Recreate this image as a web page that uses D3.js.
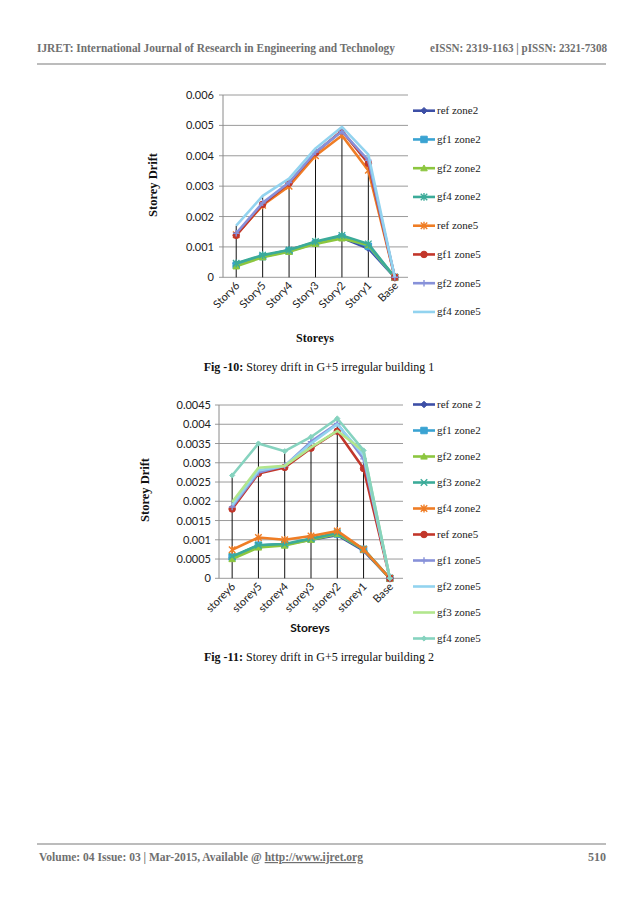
<!DOCTYPE html>
<html><head><meta charset="utf-8">
<script src="https://cdn.jsdelivr.net/npm/d3@7"></script>
<style>body{margin:0;background:#fff}</style>
</head><body>
<script>
// ---------- Figure 10 data ----------
const categories1 = ["Story6","Story5","Story4","Story3","Story2","Story1","Base"];
const seriesNames1 = ["ref zone2","gf1 zone2","gf2 zone2","gf4 zone2","ref zone5","gf1 zone5","gf2 zone5","gf4 zone5"];
const refZone2_1 = [0.00045,0.00070,0.00090,0.00115,0.00130,0.00095,0];
const gf1Zone2_1 = [0.00040,0.00068,0.00086,0.00112,0.00132,0.00102,0];
const gf2Zone2_1 = [0.00036,0.00066,0.00084,0.00110,0.00128,0.00106,0];
const gf4Zone2_1 = [0.00046,0.00073,0.00090,0.00118,0.00138,0.00110,0];
const refZone5_1 = [0.00140,0.00237,0.00300,0.00400,0.00467,0.00352,0];
const gf1Zone5_1 = [0.00138,0.00240,0.00310,0.00410,0.00482,0.00375,0];
const gf2Zone5_1 = [0.00145,0.00245,0.00312,0.00412,0.00480,0.00385,0];
const gf4Zone5_1 = [0.00170,0.00268,0.00325,0.00424,0.00495,0.00404,0];
const yTicks1 = [0,0.001,0.002,0.003,0.004,0.005,0.006];

// ---------- Figure 11 data ----------
const categories2 = ["storey6","storey5","storey4","storey3","storey2","storey1","Base"];
const seriesNames2 = ["ref zone 2","gf1 zone2","gf2 zone2","gf3 zone2","gf4 zone2","ref zone5","gf1 zone5","gf2 zone5","gf3 zone5","gf4 zone5"];
const refZone2_2 = [0.00055,0.00085,0.00088,0.00100,0.00112,0.00072,0];
const gf1Zone2_2 = [0.00055,0.00086,0.00088,0.00102,0.00115,0.00075,0];
const gf2Zone2_2 = [0.00050,0.00080,0.00085,0.00100,0.00115,0.00075,0];
const gf3Zone2_2 = [0.00057,0.00086,0.00089,0.00103,0.00118,0.00076,0];
const gf4Zone2_2 = [0.00074,0.00106,0.00100,0.00110,0.00123,0.00075,0];
const refZone5_2 = [0.00180,0.00272,0.00288,0.00338,0.00382,0.00285,0];
const gf1Zone5_2 = [0.00185,0.00275,0.00292,0.00355,0.00402,0.00310,0];
const gf2Zone5_2 = [0.00190,0.00280,0.00292,0.00350,0.00400,0.00320,0];
const gf3Zone5_2 = [0.00198,0.00287,0.00292,0.00340,0.00383,0.00330,0];
const gf4Zone5_2 = [0.00267,0.00350,0.00330,0.00367,0.00415,0.00332,0];
const yTicks2 = [0,0.0005,0.001,0.0015,0.002,0.0025,0.003,0.0035,0.004,0.0045];

// ---------- styles ----------
const C = {navy:"#3d4fa6", cyan:"#3aa3d2", lime:"#8cc63f", teal:"#3bab99", orange:"#ef7d25",
           red:"#c2362a", lav:"#8791d9", sky:"#92d3ef", lgreen:"#b2e68d", aqua:"#86d3bf"};
const SERIF = "'Liberation Serif', 'Times New Roman', serif";
const SANS = "Lato, 'Liberation Sans', sans-serif";
const chart1 = {
  cats: categories1, ticks: yTicks1,
  series: [
    {name:seriesNames1[0], v:refZone2_1, c:C.navy, m:"diamond"},
    {name:seriesNames1[1], v:gf1Zone2_1, c:C.cyan, m:"square"},
    {name:seriesNames1[2], v:gf2Zone2_1, c:C.lime, m:"triangle"},
    {name:seriesNames1[3], v:gf4Zone2_1, c:C.teal, m:"asterisk"},
    {name:seriesNames1[4], v:refZone5_1, c:C.orange, m:"asterisk"},
    {name:seriesNames1[5], v:gf1Zone5_1, c:C.red, m:"circle"},
    {name:seriesNames1[6], v:gf2Zone5_1, c:C.lav, m:"plus"},
    {name:seriesNames1[7], v:gf4Zone5_1, c:C.sky, m:"none"}
  ],
  left:223, right:408, top:95, bottom:277.3, tickRight:214,
  legendX:413, legendY0:110.7, legendDy:28.75,
  yTitle:{x:157, y:185}, xTitle:{x:315, y:342, font:SERIF},
  caption:{x:319, y:371, bold:"Fig -10:", rest:" Storey drift in G+5 irregular building 1"}
};
const chart2 = {
  cats: categories2, ticks: yTicks2,
  series: [
    {name:seriesNames2[0], v:refZone2_2, c:C.navy, m:"diamond"},
    {name:seriesNames2[1], v:gf1Zone2_2, c:C.cyan, m:"square"},
    {name:seriesNames2[2], v:gf2Zone2_2, c:C.lime, m:"triangle"},
    {name:seriesNames2[3], v:gf3Zone2_2, c:C.teal, m:"x"},
    {name:seriesNames2[4], v:gf4Zone2_2, c:C.orange, m:"asterisk"},
    {name:seriesNames2[5], v:refZone5_2, c:C.red, m:"circle"},
    {name:seriesNames2[6], v:gf1Zone5_2, c:C.lav, m:"plus"},
    {name:seriesNames2[7], v:gf2Zone5_2, c:C.sky, m:"none"},
    {name:seriesNames2[8], v:gf3Zone5_2, c:C.lgreen, m:"none"},
    {name:seriesNames2[9], v:gf4Zone5_2, c:C.aqua, m:"smalldiamond"}
  ],
  left:219, right:403, top:405, bottom:578.3, tickRight:211,
  legendX:413, legendY0:404.5, legendDy:26.0,
  yTitle:{x:149, y:490}, xTitle:{x:310, y:632, font:SANS},
  caption:{x:319, y:661, bold:"Fig -11:", rest:" Storey drift in G+5 irregular building 2"}
};

const W = 638, H = 903;
const svg = d3.select("body").append("svg").attr("width", W).attr("height", H)
  .style("font-family", SERIF);

// ---------- page header / footer ----------
const grey = "#707070";
svg.append("text").attr("x", 37).attr("y", 52).attr("font-size", 12).attr("font-weight", "bold")
  .attr("font-family", SERIF).attr("fill", grey).attr("textLength", 358).attr("lengthAdjust", "spacingAndGlyphs")
  .text("IJRET: International Journal of Research in Engineering and Technology");
svg.append("text").attr("x", 430).attr("y", 52).attr("font-size", 12).attr("font-weight", "bold")
  .attr("font-family", SERIF).attr("fill", grey).attr("textLength", 177).attr("lengthAdjust", "spacingAndGlyphs")
  .text("eISSN: 2319-1163 | pISSN: 2321-7308");
svg.append("line").attr("x1", 37).attr("x2", 606).attr("y1", 64).attr("y2", 64)
  .attr("stroke", "#a6a6a6").attr("stroke-width", 1.5);

svg.append("line").attr("x1", 37).attr("x2", 606).attr("y1", 844).attr("y2", 844)
  .attr("stroke", "#a6a6a6").attr("stroke-width", 1.5);
const foot = svg.append("text").attr("x", 39).attr("y", 861).attr("font-size", 12).attr("font-weight", "bold")
  .attr("font-family", SERIF).attr("fill", grey).attr("textLength", 324).attr("lengthAdjust", "spacingAndGlyphs");
foot.append("tspan").text("Volume: 04 Issue: 03 | Mar-2015, Available @ ");
foot.append("tspan").attr("text-decoration", "underline").text("http://www.ijret.org");
svg.append("text").attr("x", 606).attr("y", 861).attr("font-size", 12).attr("font-weight", "bold")
  .attr("font-family", SERIF).attr("fill", grey).attr("text-anchor", "end").text("510");

// ---------- markers ----------
function markerPath(type, s) {
  const h = s / 2;
  switch (type) {
    case "diamond": return `M0,${-h}L${h},0L0,${h}L${-h},0Z`;
    case "smalldiamond": return `M0,${-h*0.8}L${h*0.8},0L0,${h*0.8}L${-h*0.8},0Z`;
    case "square": return `M${-h},${-h}h${s}v${s}h${-s}Z`;
    case "triangle": return `M0,${-h}L${h},${h*0.8}L${-h},${h*0.8}Z`;
    case "x": return `M${-h},${-h}L${h},${h}M${h},${-h}L${-h},${h}`;
    case "asterisk": return `M${-h},${-h}L${h},${h}M${h},${-h}L${-h},${h}M0,${-h*1.2}V${h*1.2}`;
    case "plus": return `M${-h},0H${h}M0,${-h}V${h}`;
    case "circle": return d3.symbol(d3.symbolCircle, s * s * 0.8)();
    default: return "";
  }
}
const filled = t => ["diamond","smalldiamond","square","triangle","circle"].includes(t);
function drawMarker(g, type, color, x, y) {
  if (type === "none") return;
  g.append("path").attr("d", markerPath(type, 6.5)).attr("transform", `translate(${x},${y})`)
    .attr("fill", filled(type) ? color : "none").attr("stroke", color)
    .attr("stroke-width", filled(type) ? 1 : 1.4);
}

// ---------- chart drawing ----------
function drawChart(cfg) {
  const g = svg.append("g");
  const x = d3.scaleBand().domain(cfg.cats).range([cfg.left, cfg.right]);
  const y = d3.scaleLinear().domain([0, d3.max(cfg.ticks)]).range([cfg.bottom, cfg.top]);
  const cx = d => x(d) + x.bandwidth() / 2;

  // gridlines + y ticks
  g.append("g").selectAll("line").data(cfg.ticks).join("line")
    .attr("x1", cfg.left - 4).attr("x2", cfg.right)
    .attr("y1", d => y(d)).attr("y2", d => y(d))
    .attr("stroke", "#9a9a9a").attr("stroke-width", 1);
  g.append("g").selectAll("text").data(cfg.ticks).join("text")
    .attr("x", cfg.tickRight).attr("y", d => y(d) + 4)
    .attr("text-anchor", "end").attr("font-size", 11)
    .attr("font-family", SANS).attr("fill", "#222")
    .text(d => String(+d.toFixed(4)));
  // y axis line
  g.append("line").attr("x1", cfg.left).attr("x2", cfg.left).attr("y1", cfg.top).attr("y2", cfg.bottom)
    .attr("stroke", "#8a8a8a");

  // drop lines (black), from the highest series to the axis
  const maxes = cfg.cats.map((c, i) => d3.max(cfg.series, s => s.v[i]));
  g.append("g").selectAll("line").data(cfg.cats.filter((c, i) => maxes[i] > 0)).join("line")
    .attr("x1", d => cx(d)).attr("x2", d => cx(d))
    .attr("y1", d => y(maxes[cfg.cats.indexOf(d)])).attr("y2", cfg.bottom)
    .attr("stroke", "#111").attr("stroke-width", 1);

  // series lines and markers
  const line = d3.line().x((d, i) => cx(cfg.cats[i])).y(d => y(d));
  cfg.series.forEach(s => {
    g.append("path").datum(s.v).attr("d", line).attr("fill", "none")
      .attr("stroke", s.c).attr("stroke-width", 2.6).attr("stroke-linejoin", "round");
    s.v.forEach((v, i) => drawMarker(g, s.m, s.c, cx(cfg.cats[i]), y(v)));
  });

  // x tick labels, rotated
  g.append("g").selectAll("text").data(cfg.cats).join("text")
    .attr("transform", d => `translate(${cx(d) + 4},${cfg.bottom + 9}) rotate(-45)`)
    .attr("text-anchor", "end").attr("font-size", 11)
    .attr("font-family", SANS).attr("fill", "#222")
    .text(d => d);

  // axis titles
  g.append("text").attr("transform", `translate(${cfg.yTitle.x},${cfg.yTitle.y}) rotate(-90)`)
    .attr("text-anchor", "middle").attr("font-size", 12.5).attr("font-weight", "bold").attr("fill", "#111")
    .attr("font-family", SERIF).text("Storey Drift");
  g.append("text").attr("x", cfg.xTitle.x).attr("y", cfg.xTitle.y)
    .attr("text-anchor", "middle").attr("font-size", 12).attr("font-weight", "bold").attr("fill", "#111")
    .attr("font-family", cfg.xTitle.font).text("Storeys");

  // legend
  cfg.series.forEach((s, i) => {
    const ly = cfg.legendY0 + i * cfg.legendDy;
    g.append("line").attr("x1", cfg.legendX).attr("x2", cfg.legendX + 22).attr("y1", ly).attr("y2", ly)
      .attr("stroke", s.c).attr("stroke-width", 2.6);
    drawMarker(g, s.m, s.c, cfg.legendX + 11, ly);
    g.append("text").attr("x", cfg.legendX + 24).attr("y", ly + 3.5).attr("font-size", 11)
      .attr("font-family", SERIF).attr("fill", "#222").text(s.name);
  });

  // caption
  const cap = g.append("text").attr("x", cfg.caption.x).attr("y", cfg.caption.y)
    .attr("text-anchor", "middle").attr("font-size", 12).attr("font-family", SERIF).attr("fill", "#111");
  cap.append("tspan").attr("font-weight", "bold").text(cfg.caption.bold);
  cap.append("tspan").text(cfg.caption.rest);
}
drawChart(chart1);
drawChart(chart2);
</script>
</body></html>
